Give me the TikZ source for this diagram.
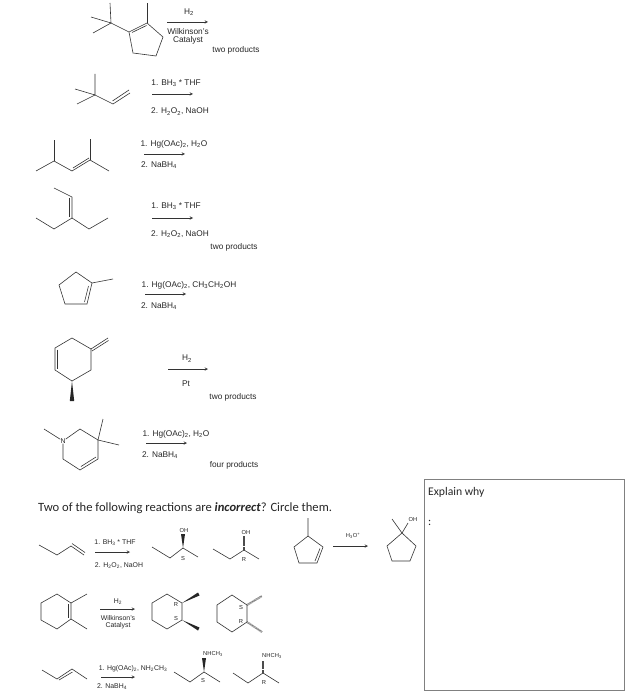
\documentclass[tikz,border=0pt]{standalone}
\usepackage{fontspec}
\setmainfont{Liberation Sans}
\newfontfamily\calibrifont{Carlito}
\tikzset{
    bond/.style={line width=.6pt,color=black!80},
    hashbond/.style={line width=2pt,color=black!70,dash pattern=on .35pt off .7pt},
    rxn/.style={->,line width=.5pt,color=black!80},
    rgnt/.style={font=\fontsize{8.3}{10}\selectfont,inner sep=0pt,color=black!85,yshift=-1pt},
    smallrgnt/.style={font=\fontsize{6.9}{8}\selectfont,inner sep=0pt,color=black!85,yshift=-1pt},
    atomlabel/.style={font=\fontsize{5.8}{7}\selectfont,inner sep=0pt,color=black!85},
    heading/.style={font=\calibrifont\fontsize{12.6}{14}\selectfont,inner sep=0pt,color=black!85,yshift=-1pt}
}
\begin{document}
\begin{tikzpicture}[x=1pt,y=-1pt,>=stealth]
\useasboundingbox (0,0) rectangle (634,700);

% upper column, alkenes
\draw[bond](110,3)--(111,23)--(91,17);
\draw[bond](93,33)--(111,23)--(129,32)--(147,23)--(163,37)--(156,56)--(133,53)--(129,32);
\draw[bond](147,23)--(147,3);
\draw[bond](132,32.5)--(146.5,25.5);

\draw[bond](95,74)--(95,95)--(75,89);
\draw[bond](77,104)--(95,95)--(113,104)--(130,93);
\draw[bond](112.5,101)--(129,90);

\draw[bond](36,171)--(54,161)--(72,171)--(90,160)--(109,171);
\draw[bond](54,161)--(54,140);
\draw[bond](90,160)--(90,139);
\draw[bond](73,168)--(89,158);

\draw[bond](54,188)--(72,197)--(72,218)--(54,229)--(36,218);
\draw[bond](72,218)--(89,229)--(108,218);
\draw[bond](69.5,198)--(69.5,217);

\draw[bond](76,272)--(92,283)--(87,304)--(65,304)--(59,285)--cycle;
\draw[bond](92,283)--(113,279);
\draw[bond](88.5,286)--(84.5,302);

\draw[bond](72,338)--(91,349)--(91,370)--(72,381)--(55,370)--(55,348)--cycle;
\draw[bond](91,349)--(108,338);
\draw[bond](92,351)--(108.5,340.5);
\draw[bond](57.5,349.5)--(57.5,368.5);
\fill[black!85](72,381)--(69.8,401)--(74.2,401)--cycle;

\node[smallrgnt](nitrogen)at(63,440){N};
\draw[bond](nitrogen)--(44,429);
\draw[bond](nitrogen)--(80,429)--(98,440)--(98,459)--(80,470)--(63,459)--(nitrogen);
\draw[bond](98,440)--(103,419);
\draw[bond](98,440)--(119,445);
\draw[bond](96,457)--(81,466.5);

% lower left, alcohols
\draw[bond](39,545)--(57,555)--(71,546)--(84,555);
\draw[bond](72,543.5)--(85,552.5);
\draw[bond](152,547)--(170,558)--(183,548)--(198,557);
\fill[black!85](183,548)--(181,534)--(185,534)--cycle;
\draw[bond](213,549)--(230,559)--(244,550)--(259,559);
\draw[hashbond](244,550)--(244,536);

% lower left, rings
\draw[bond](57,594)--(71,603)--(71,619)--(57,629)--(41,620)--(41,603)--cycle;
\draw[bond](71,603)--(87,594);
\draw[bond](71,619)--(87,629);
\draw[bond](68.5,604)--(68.5,618);
\draw[bond](167,594)--(182,603)--(182,620)--(167,629)--(152,620)--(152,603)--cycle;
\fill[black!85](182,603)--(198,592.5)--(199.5,595.5)--cycle;
\fill[black!85](182,620)--(199.5,627.5)--(198,630.5)--cycle;
\draw[bond](232,595)--(247,605)--(247,622)--(232,632)--(217,622)--(217,605)--cycle;
\draw[hashbond](247,605)--(262,596);
\draw[hashbond](247,622)--(262,632);

% lower left, amines
\draw[bond](42,670)--(57,679)--(72,669)--(87,679);
\draw[bond](59,680)--(72.5,672);
\draw[bond](174,672)--(190,682)--(204,672)--(220,682);
\fill[black!85](204,672)--(202,658)--(206,658)--cycle;
\draw[bond](233,673)--(248,683)--(263,673)--(279,683);
\draw[hashbond](263,673)--(263,661);

% right, hydration
\draw[bond](308,518)--(308,536)--(323,547)--(317,563)--(299,563)--(294,547)--(308,536);
\draw[bond](320,548.5)--(315,561);
\draw[bond](402,533)--(416,546)--(410,561)--(392,561)--(387,546)--cycle;
\draw[bond](402,533)--(392,519);
\draw[bond](402,533)--(408,523);

% arrows
\foreach \n/\xa/\xb/\y in {a/167/208/22,b/152/193/94,c/144/185/154,d/152/193/218,e/145/186/294,f/168/208/369,g/146/187/443,h/95/130/552,i/100/135/609,j/101/135/677,k/333/368/546}
{
    \coordinate (from\n) at (\xa,\y);
    \coordinate (to\n) at (\xb,\y);
    \draw[rxn](from\n)--(to\n);
}

% reagents, upper column
\foreach \n/\x/\y/\t in {
    hydrogena/189/11/{H\textsubscript{2}},
    wilka/188/31/{Wilkinson's},
    cata/188/39.5/{Catalyst},
    twoa/236/49/{two products},
    boranea/176/82/{1. BH\textsubscript{3} * THF},
    peroxa/180/110.5/{2. H\textsubscript{2}O\textsubscript{2}, NaOH},
    mercc/174/143/{1. Hg(OAc)\textsubscript{2}, H\textsubscript{2}O},
    redc/159/164/{2. NaBH\textsubscript{4}},
    boraned/176/205.5/{1. BH\textsubscript{3} * THF},
    peroxd/180/233/{2. H\textsubscript{2}O\textsubscript{2}, NaOH},
    twod/234/246/{two products},
    merce/189/284/{1. Hg(OAc)\textsubscript{2}, CH\textsubscript{3}CH\textsubscript{2}OH},
    rede/159/305/{2. NaBH\textsubscript{4}},
    hydrogenf/187/357.5/{H\textsubscript{2}},
    platf/186/383/{Pt},
    twof/233/396.5/{two products},
    mercg/176/433/{1. Hg(OAc)\textsubscript{2}, H\textsubscript{2}O},
    redg/160/454/{2. NaBH\textsubscript{4}},
    fourg/234/464/{four products}}
{
    \node[rgnt](\n)at(\x,\y){\t};
}

% reagents, lower part
\foreach \n/\x/\y/\t in {
    boraneh/115/542/{1. BH\textsubscript{3} * THF},
    peroxh/119/565/{2. H\textsubscript{2}O\textsubscript{2}, NaOH},
    hydrogeni/118/601/{H\textsubscript{2}},
    wilki/118/617/{Wilkinson's},
    cati/118/624.5/{Catalyst},
    mercj/133/668/{1. Hg(OAc)\textsubscript{2}, NH\textsubscript{2}CH\textsubscript{3}},
    redj/112/686/{2. NaBH\textsubscript{4}}}
{
    \node[smallrgnt](\n)at(\x,\y){\t};
}

% atom and stereo labels
\foreach \n/\x/\y/\t in {
    hydroxa/184/530/{OH},
    stereoa/183/558/{S},
    hydroxb/246/532/{OH},
    stereob/244/559/{R},
    stereoc/176/604/{R},
    stereod/176/618/{S},
    stereoe/241/607/{S},
    stereof/241/621/{R},
    aminea/213/654/{NHCH\textsubscript{3}},
    stereog/203/680/{S},
    amineb/272/656/{NHCH\textsubscript{3}},
    stereoh/264/682/{R},
    acidk/353/536/{H\textsubscript{3}O\textsuperscript{+}},
    hydroxc/413/519/{OH}}
{
    \node[atomlabel](\n)at(\x,\y){\t};
}

% question and answer box
\node[heading,anchor=west](question)at(38,507){Two of the following reactions are \textbf{\textit{incorrect}}? Circle them.};
\draw[line width=1pt,color=black!50](424,479)rectangle(624,690);
\node[heading,anchor=west,font=\calibrifont\fontsize{11.7}{13}\selectfont](explain)at(428,491){Explain why};
\node[heading,anchor=west,font=\calibrifont\fontsize{11.7}{13}\selectfont](colon)at(428,522){:};
\end{tikzpicture}
\end{document}
